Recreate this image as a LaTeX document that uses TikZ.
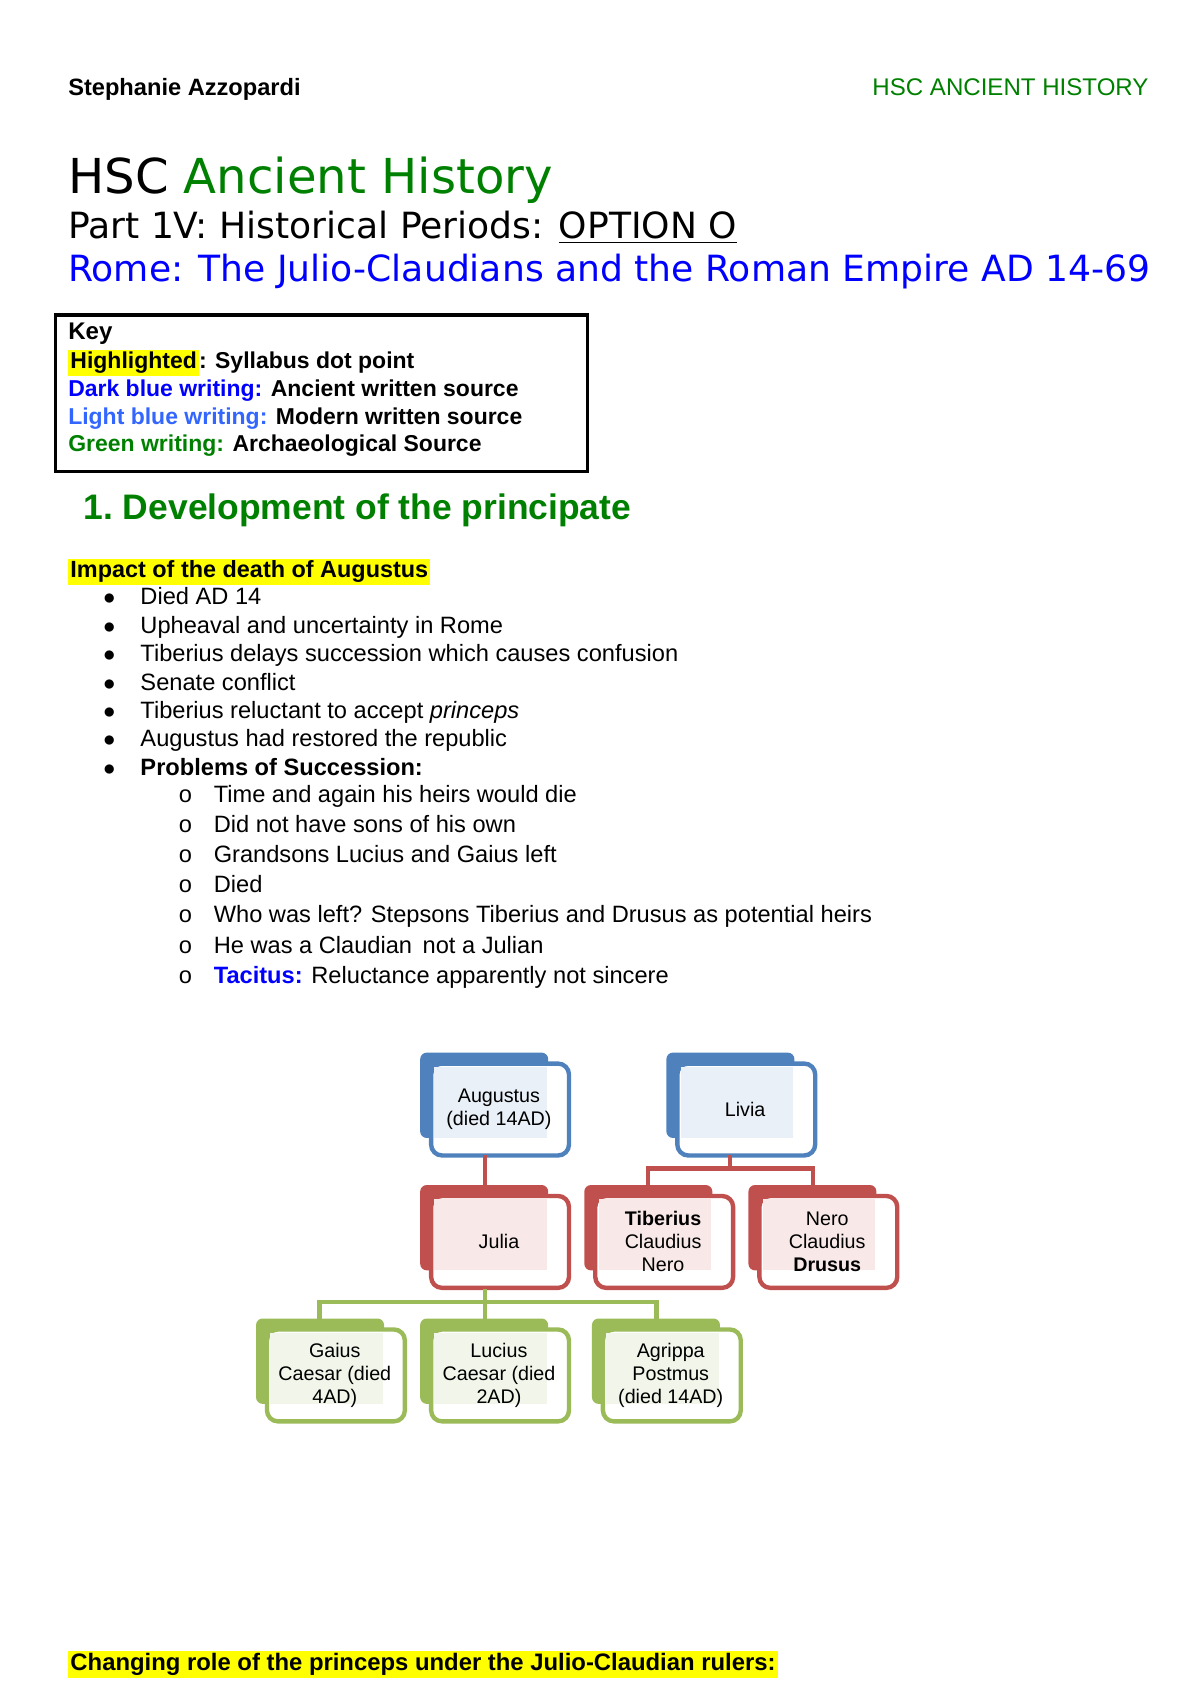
\documentclass[tikz,border=0pt]{standalone}
\usepackage{fontspec}
\setmainfont{Liberation Sans}
\newfontfamily\dvs{DejaVu Sans}
\definecolor{kblue}{HTML}{0000FF}
\definecolor{lblue}{HTML}{3366FF}
\definecolor{kgreen}{HTML}{008000}
\definecolor{hyel}{HTML}{FFFF00}
\definecolor{bB}{HTML}{4F81BD}\definecolor{bP}{HTML}{EAF0F8}
\definecolor{rB}{HTML}{C0504D}\definecolor{rP}{HTML}{F8E8E8}
\definecolor{gB}{HTML}{9BBB59}\definecolor{gP}{HTML}{F2F6EA}
\tikzset{
 txt/.style={anchor=base west,inner sep=0pt,font=\fontsize{10.8}{12}\selectfont},
 keyt/.style={anchor=base west,inner sep=0pt,font=\fontsize{10.5}{12}\selectfont\bfseries},
 hl/.style={fill=hyel,inner sep=1pt},
 conn/.style={line width=2pt},
 lbl/.style={align=center,font=\fontsize{9}{10.5}\selectfont,inner sep=0pt}
}
% #1 name, #2 colour, #3 pale, #4 x, #5 y (back box top-left), #6 text
\newcommand{\famnode}[6]{%
  \fill[#2,rounded corners=3] (#4,#5) rectangle ++(117,78);
  \draw[#2,line width=2pt,fill=white,rounded corners=5] (#4+10,#5+10) rectangle ++(126,84);
  \fill[#3] (#4+13,#5+13) rectangle (#4+116,#5+78);
  \node[lbl] (#1) at (#4+72,#5+52) {#6};
}
\begin{document}
\begin{tikzpicture}[x=0.5pt,y=-0.5pt]
\useasboundingbox (0,0) rectangle (1097,1550);
\node[txt,font=\fontsize{10.8}{12}\selectfont\bfseries] (au) at (62,87) {Stephanie Azzopardi};
\node[txt,anchor=base east,font=\fontsize{11}{12}\selectfont,text=kgreen] (hs) at (1050,87) {HSC ANCIENT HISTORY};
\node[txt,font=\fontsize{22}{26}\selectfont\dvs] (t1) at (62,177) {HSC \textcolor{kgreen}{Ancient History}};
\node[txt,font=\fontsize{16.5}{18}\selectfont\dvs] (t2) at (62,218) {Part 1V: Historical Periods: \underline{OPTION O}};
\node[txt,font=\fontsize{16.5}{18}\selectfont\dvs,text=kblue] (t3) at (62,257) {Rome: The Julio-Claudians and the Roman Empire AD 14-69};
% key
\draw[line width=1.5pt] (51,288) rectangle (537,431);
\node[keyt,font=\fontsize{11}{12}\selectfont\bfseries] (k0) at (62,310) {Key};
\node[keyt] (k1) at (62,337) {\setlength{\fboxsep}{1pt}\colorbox{hyel}{Highlighted}: Syllabus dot point};
\node[keyt] (k2) at (62,362) {\textcolor{kblue}{Dark blue writing:} Ancient written source};
\node[keyt] (k3) at (62,388) {\textcolor{lblue}{Light blue writing:} Modern written source};
\node[keyt] (k4) at (62,413) {\textcolor{kgreen}{Green writing:} Archaeological Source};
\node[txt,font=\fontsize{16.2}{18}\selectfont\bfseries,text=kgreen] (h1) at (76,475) {1.\ Development of the principate};
\node[txt,font=\fontsize{10.7}{12}\selectfont\bfseries,hl,anchor=base west] (im) at (62,528) {Impact of the death of Augustus};
\foreach \t [count=\i] in {Died AD 14,Upheaval and uncertainty in Rome,Tiberius delays succession which causes confusion,Senate conflict,Tiberius reluctant to accept \textit{princeps},Augustus had restored the republic,\textbf{Problems of Succession:}}{
 \node[txt] (bu\i) at (94,527+25.9*\i) {$\bullet$};
 \node[txt] (b\i) at (128,527+25.9*\i) {\t};
}
\foreach \t [count=\i] in {Time and again his heirs would die,Did not have sons of his own,Grandsons Lucius and Gaius left,Died,Who was left? Stepsons Tiberius and Drusus as potential heirs,He was a Claudian\, not a Julian,\textcolor{kblue}{\textbf{Tacitus:}} Reluctance apparently not sincere}{
 \node[txt] (so\i) at (163,706+27.5*\i) {o};
 \node[txt] (s\i) at (195,706+27.5*\i) {\t};
}
% tree
\famnode{aug}{bB}{bP}{384}{962}{Augustus\\(died 14AD)}
\famnode{liv}{bB}{bP}{609}{962}{Livia}
\famnode{jul}{rB}{rP}{384}{1083}{Julia}
\famnode{tib}{rB}{rP}{534}{1083}{\textbf{Tiberius}\\Claudius\\Nero}
\famnode{ner}{rB}{rP}{684}{1083}{Nero\\Claudius\\\textbf{Drusus}}
\famnode{gai}{gB}{gP}{234}{1205}{Gaius\\Caesar (died\\4AD)}
\famnode{luc}{gB}{gP}{384}{1205}{Lucius\\Caesar (died\\2AD)}
\famnode{agr}{gB}{gP}{541}{1205}{Agrippa\\Postmus\\(died 14AD)}
\draw[conn,rB] (443,1056) -- (443,1083);
\draw[conn,rB] (667,1056) -- (667,1068) -| (592,1083);
\draw[conn,rB] (667,1068) -| (743,1083);
\draw[conn,gB] (443,1178) -- (443,1205);
\draw[conn,gB] (292,1205) |- (443,1190) -| (600,1205);
\node[txt,font=\fontsize{10.9}{12}\selectfont\bfseries,hl,anchor=base west] (ch) at (62,1527) {Changing role of the princeps under the Julio-Claudian rulers:};
\end{tikzpicture}
\end{document}
